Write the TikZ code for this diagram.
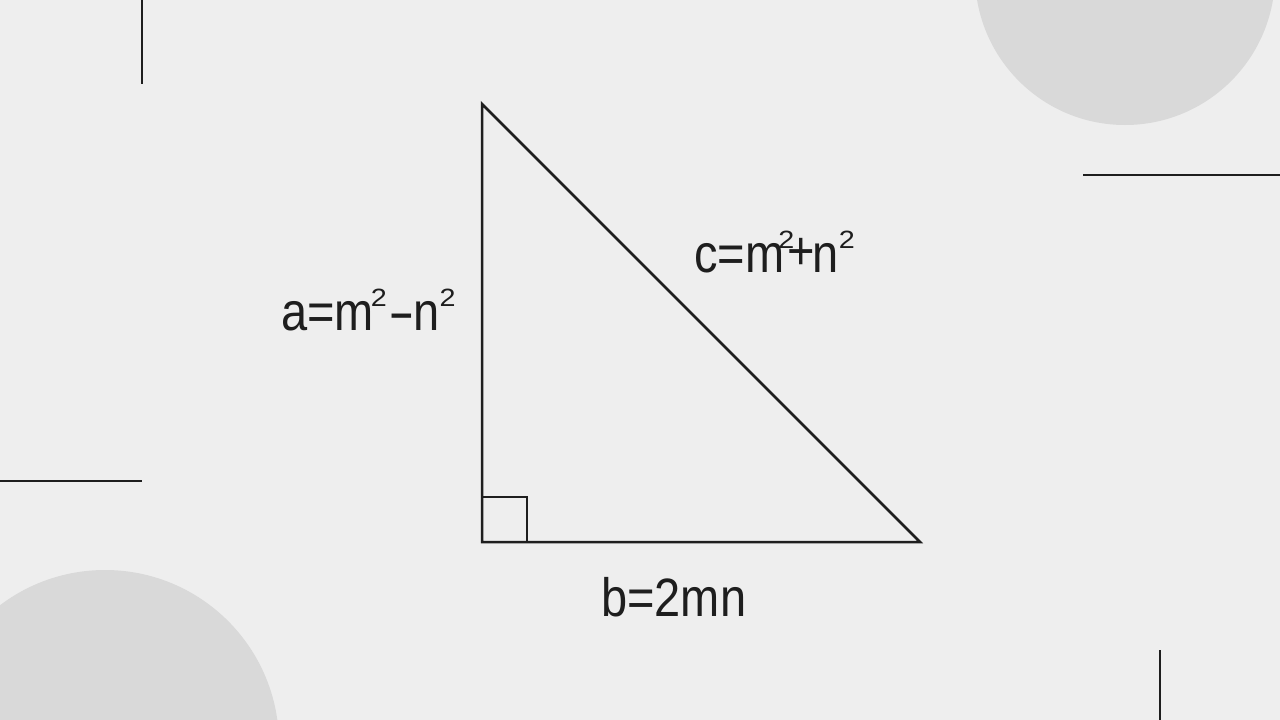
\documentclass[tikz,border=0pt]{standalone}
\usepackage{graphicx}
\usepackage{fontspec}
\setmainfont[FakeStretch=0.87]{Liberation Sans}
\newfontfamily\supfont[FakeStretch=1.15]{Liberation Sans}
\definecolor{bgc}{HTML}{EEEEEE}
\definecolor{blob}{HTML}{D9D9D9}
\definecolor{ink}{HTML}{1E1E1E}
\newcommand\supr[1]{\raisebox{24pt}{\supfont\fontsize{25}{27}\selectfont #1}}
\begin{document}
\begin{tikzpicture}[x=1pt,y=-1pt,
  decoline/.style={draw=ink, line width=2pt},
  edge/.style={draw=ink, line width=2.5pt},
  lbl/.style={anchor=base west, inner sep=0pt, text=ink, font=\fontsize{54}{60}\selectfont}]
\useasboundingbox (0,0) rectangle (1280,720);
\clip (0,0) rectangle (1280,720);
\fill[bgc] (0,0) rectangle (1280,720);
% background blobs
\fill[blob] (1125,-25) circle[radius=150];
\fill[blob] (105,744) circle[radius=174];
% decorative lines
\coordinate (d1a) at (142,0);    \coordinate (d1b) at (142,84);
\coordinate (d2a) at (1083,175); \coordinate (d2b) at (1280,175);
\coordinate (d3a) at (0,481);    \coordinate (d3b) at (142,481);
\coordinate (d4a) at (1160,650); \coordinate (d4b) at (1160,720);
\draw[decoline] (d1a) -- (d1b);
\draw[decoline] (d2a) -- (d2b);
\draw[decoline] (d3a) -- (d3b);
\draw[decoline] (d4a) -- (d4b);
% triangle
\coordinate (A) at (482,104);
\coordinate (B) at (482,542);
\coordinate (C) at (920,542);
\draw[edge] (A) -- (B) -- (C) -- cycle;
\coordinate (R1) at (482,497);
\coordinate (R2) at (527,542);
\draw[edge, line width=2pt] (R1) -| (R2);
% labels
\node[lbl] (la) at (281,330) {a=m\kern-3pt\supr{2}\kern2pt\scalebox{1.7}[1]{-}\kern-2pt n\supr{2}};
\node[lbl] (lc) at (694,272) {c=m\kern-6pt\supr{2}\kern-7pt\raisebox{3pt}{+}\kern-2pt n\supr{2}};
\node[lbl] (lb) at (601,616) {b=2mn};
\end{tikzpicture}
\end{document}
